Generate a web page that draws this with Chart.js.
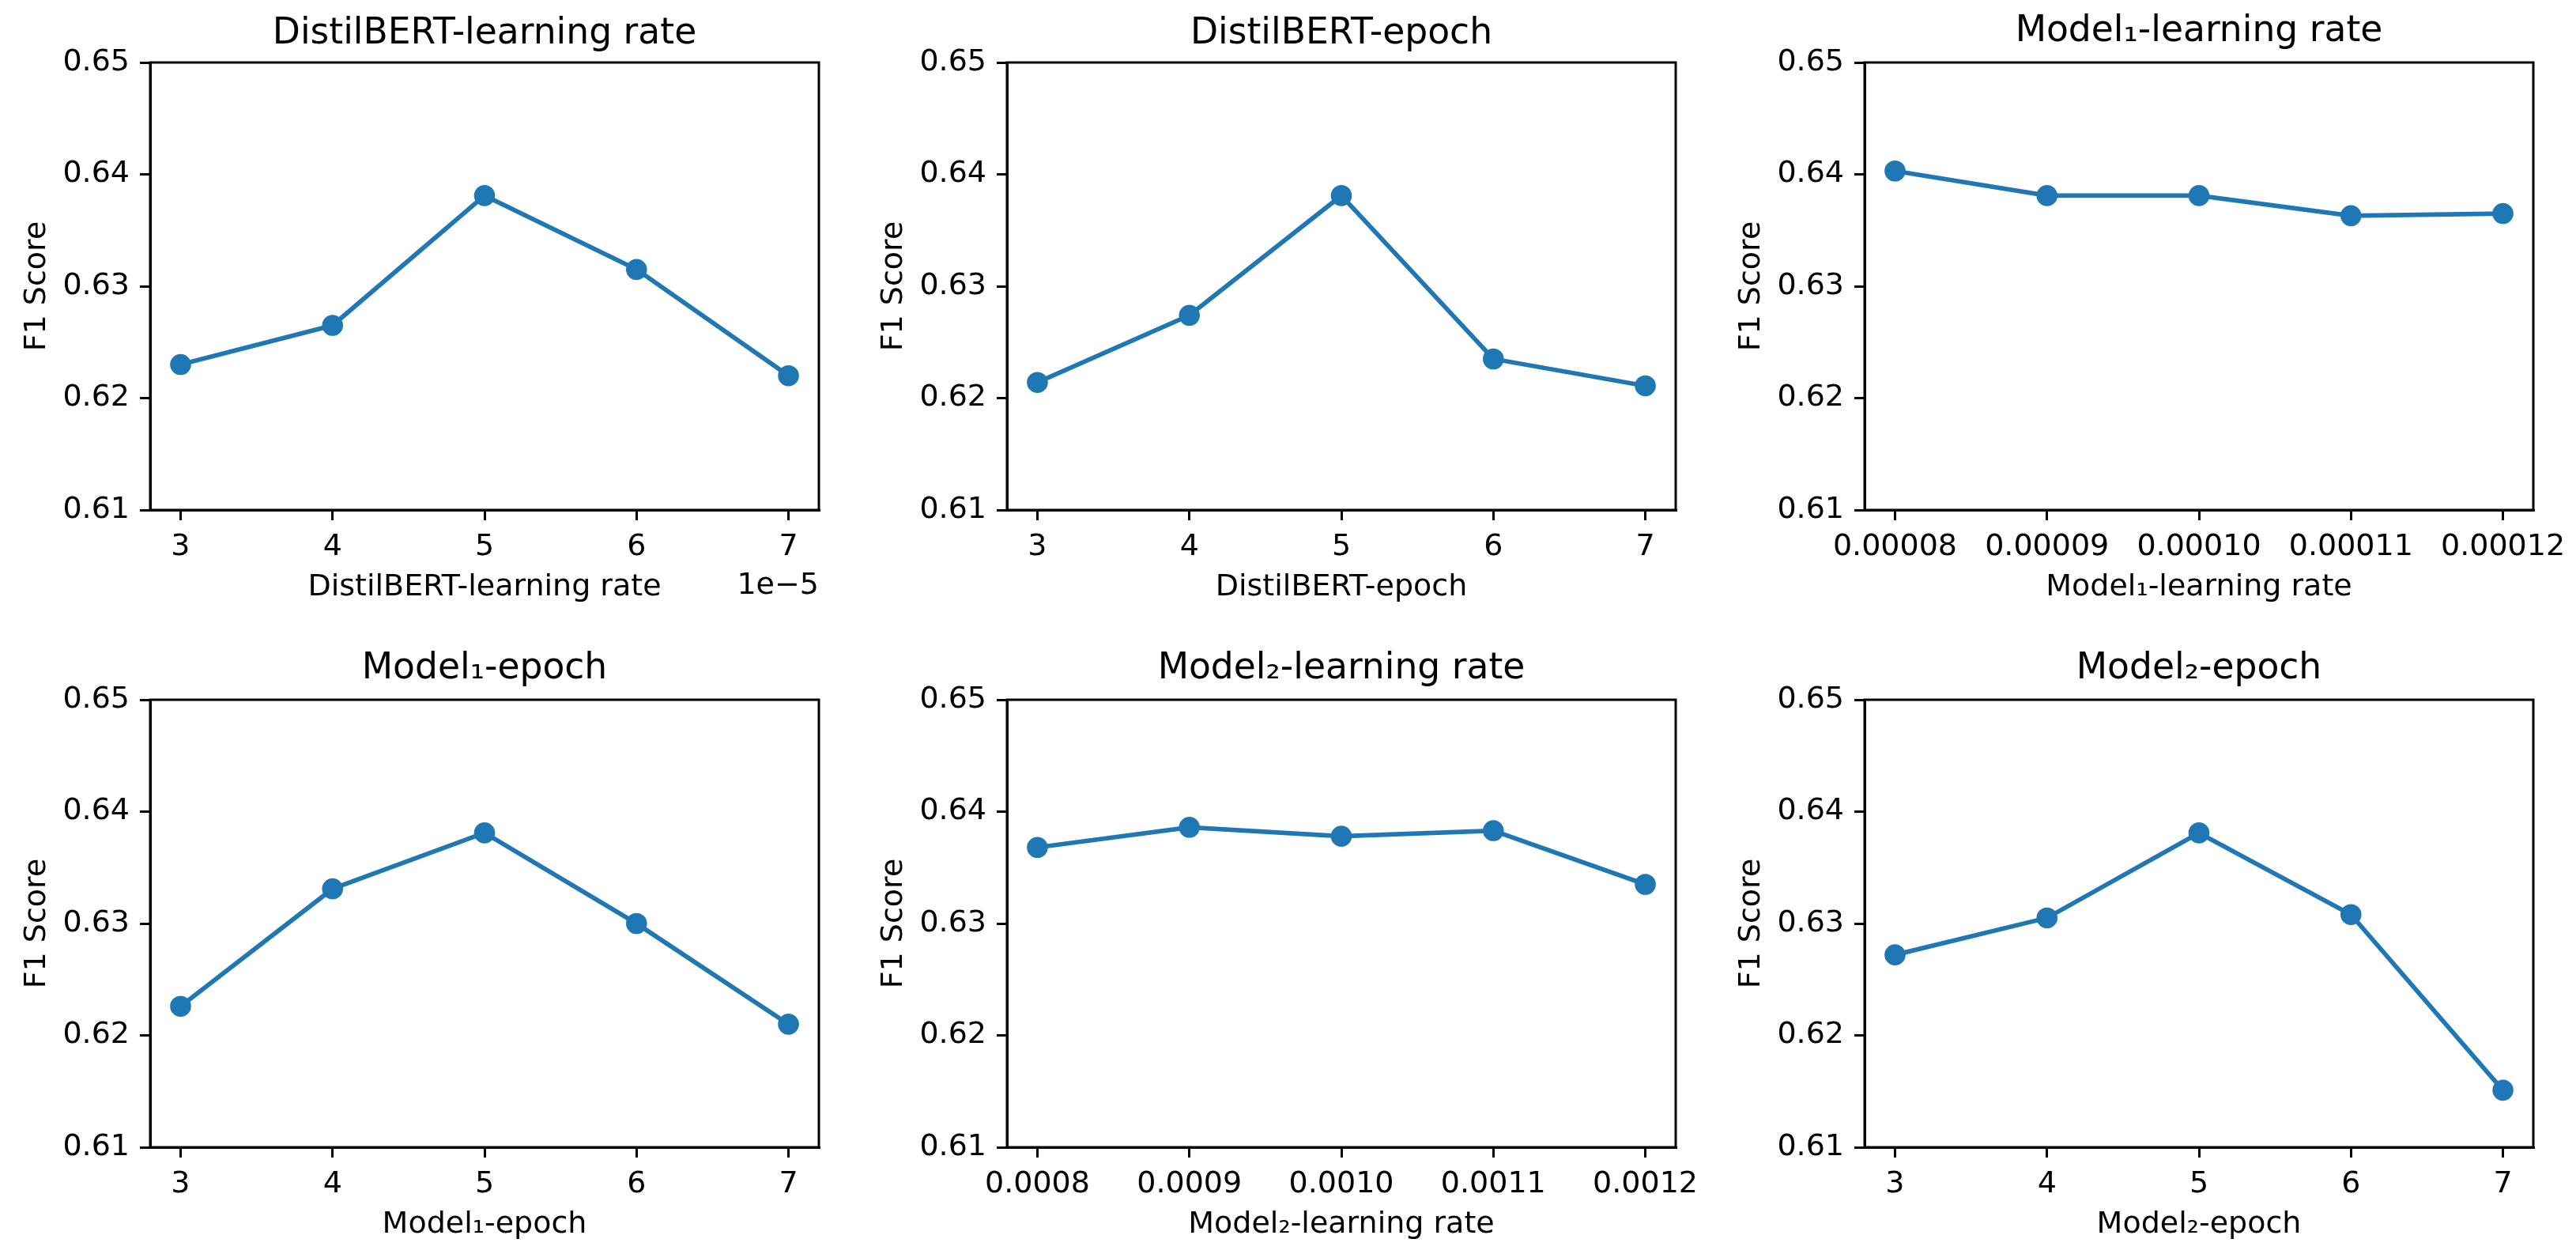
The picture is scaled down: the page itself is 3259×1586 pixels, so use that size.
<!DOCTYPE html>
<html><head><meta charset="utf-8">
<script src="https://cdn.jsdelivr.net/npm/chart.js@4"></script>
<style>
html,body{margin:0;padding:0;background:#fff;width:3259px;height:1586px;overflow:hidden;position:relative}
canvas{position:absolute}
</style></head><body>
<script>
// ---------- data ----------
const epochs = [3, 4, 5, 6, 7];
const epochTickLabels = ['3', '4', '5', '6', '7'];
const distilLR = [3e-5, 4e-5, 5e-5, 6e-5, 7e-5];
const distilLRTickLabels = ['3', '4', '5', '6', '7'];
const model1LR = [0.00008, 0.00009, 0.00010, 0.00011, 0.00012];
const model1LRTickLabels = ['0.00008', '0.00009', '0.00010', '0.00011', '0.00012'];
const model2LR = [0.0008, 0.0009, 0.0010, 0.0011, 0.0012];
const model2LRTickLabels = ['0.0008', '0.0009', '0.0010', '0.0011', '0.0012'];

const f1DistilLR    = [0.6230, 0.6265, 0.6381, 0.6315, 0.6220];
const f1DistilEpoch = [0.6214, 0.6274, 0.6381, 0.6235, 0.6211];
const f1Model1LR    = [0.6403, 0.6381, 0.6381, 0.6363, 0.6365];
const f1Model1Epoch = [0.6226, 0.6331, 0.6381, 0.6300, 0.6210];
const f1Model2LR    = [0.6368, 0.6386, 0.6378, 0.6383, 0.6335];
const f1Model2Epoch = [0.6272, 0.6305, 0.6381, 0.6308, 0.6151];

const yTickValues = [0.61, 0.62, 0.63, 0.64, 0.65];
const yTickLabels = ['0.61', '0.62', '0.63', '0.64', '0.65'];
const yAxisTitle = 'F1 Score';

const panelTitles = ['DistilBERT-learning rate', 'DistilBERT-epoch', 'Model\u2081-learning rate',
                     'Model\u2081-epoch', 'Model\u2082-learning rate', 'Model\u2082-epoch'];
const xAxisTitles = ['DistilBERT-learning rate', 'DistilBERT-epoch', 'Model\u2081-learning rate',
                     'Model\u2081-epoch', 'Model\u2082-learning rate', 'Model\u2082-epoch'];
const offsetTexts = ['1e\u22125', '', '', '', '', ''];

// ---------- layout / style ----------
const FONT = "'DejaVu Sans', sans-serif";
const C0 = '#1f77b4';
const COL_LEFT = [190, 1274, 2359];
const ROW_TOP = [79, 885];
const PLOT_W = 846, PLOT_H = 566;
const Y_AXIS_W = 190, TITLE_H = 79, X_AXIS_H = 130, RIGHT_PAD = 100;

const panels = [
  {x: distilLR, y: f1DistilLR, ticks: distilLRTickLabels, col: 0, row: 0, math: false},
  {x: epochs, y: f1DistilEpoch, ticks: epochTickLabels, col: 1, row: 0, math: false},
  {x: model1LR, y: f1Model1LR, ticks: model1LRTickLabels, col: 2, row: 0, math: true},
  {x: epochs, y: f1Model1Epoch, ticks: epochTickLabels, col: 0, row: 1, math: true},
  {x: model2LR, y: f1Model2LR, ticks: model2LRTickLabels, col: 1, row: 1, math: true},
  {x: epochs, y: f1Model2Epoch, ticks: epochTickLabels, col: 2, row: 1, math: true}
];

const framePlugin = {
  id: 'frame',
  afterDraw(chart) {
    const {ctx, chartArea: a} = chart;
    ctx.save();
    ctx.strokeStyle = '#000';
    ctx.lineWidth = 3;
    ctx.strokeRect(a.left, a.top, a.right - a.left, a.bottom - a.top);
    ctx.restore();
  }
};
const offsetTextPlugin = {
  id: 'offsetText',
  afterDraw(chart, args, opts) {
    if (!opts.text) return;
    const {ctx, chartArea: a} = chart;
    ctx.save();
    ctx.fillStyle = '#000';
    ctx.font = '38px ' + FONT;
    ctx.textAlign = 'right';
    ctx.textBaseline = 'alphabetic';
    ctx.fillText(opts.text, a.right, a.bottom + 106);
    ctx.restore();
  }
};

const tickGrid = {drawOnChartArea: false, drawTicks: true, tickLength: 13, color: '#000', lineWidth: 3};
const axisBorder = {display: true, color: '#000', width: 3};

panels.forEach((p, i) => {
  const W = Y_AXIS_W + PLOT_W + RIGHT_PAD, H = TITLE_H + PLOT_H + X_AXIS_H;
  const canvas = document.createElement('canvas');
  canvas.width = W; canvas.height = H;
  canvas.style.width = W + 'px'; canvas.style.height = H + 'px';
  canvas.style.left = (COL_LEFT[p.col] - Y_AXIS_W) + 'px';
  canvas.style.top = (ROW_TOP[p.row] - TITLE_H) + 'px';
  document.body.appendChild(canvas);
  const span = p.x[p.x.length - 1] - p.x[0];
  new Chart(canvas, {
    type: 'line',
    data: {datasets: [{
      data: p.x.map((v, k) => ({x: v, y: p.y[k]})),
      borderColor: C0, backgroundColor: C0, borderWidth: 5.7,
      pointRadius: 11.4, pointBorderWidth: 3.8,
      pointBackgroundColor: C0, pointBorderColor: C0,
      tension: 0, fill: false
    }]},
    options: {
      responsive: false, animation: false, devicePixelRatio: 1,
      events: [],
      layout: {padding: {left: 0, top: 0, bottom: 0, right: RIGHT_PAD}},
      plugins: {
        legend: {display: false}, tooltip: {enabled: false},
        title: {display: true, text: panelTitles[i], fullSize: false, color: '#000',
                font: {family: FONT, size: 45.6, weight: 'normal'},
                padding: {top: p.math ? 13.1 : 16.1, bottom: p.math ? 11.2 : 8.2}},
        offsetText: {text: offsetTexts[i]}
      },
      scales: {
        x: {
          type: 'linear',
          min: p.x[0] - 0.05 * span, max: p.x[p.x.length - 1] + 0.05 * span,
          afterBuildTicks: s => { s.ticks = p.x.map(v => ({value: v})); },
          afterFit: s => { s.height = X_AXIS_H; },
          ticks: {callback: (v, k) => p.ticks[k], color: '#000', font: {family: FONT, size: 38},
                  padding: 11, maxRotation: 0, minRotation: 0, autoSkip: false},
          grid: tickGrid, border: axisBorder,
          title: {display: true, text: xAxisTitles[i], color: '#000',
                  font: {family: FONT, size: 38}, padding: {top: 0, bottom: 8.8}}
        },
        y: {
          type: 'linear', min: yTickValues[0], max: yTickValues[yTickValues.length - 1],
          afterBuildTicks: s => { s.ticks = yTickValues.map(v => ({value: v})); },
          afterFit: s => { s.width = Y_AXIS_W; },
          ticks: {callback: (v, k) => yTickLabels[k], color: '#000', font: {family: FONT, size: 38},
                  padding: 13, autoSkip: false},
          grid: tickGrid, border: axisBorder,
          title: {display: true, text: yAxisTitle, color: '#000',
                  font: {family: FONT, size: 38}, padding: {top: 24.2, bottom: 0}}
        }
      }
    },
    plugins: [framePlugin, offsetTextPlugin]
  });
});
</script>
</body></html>
